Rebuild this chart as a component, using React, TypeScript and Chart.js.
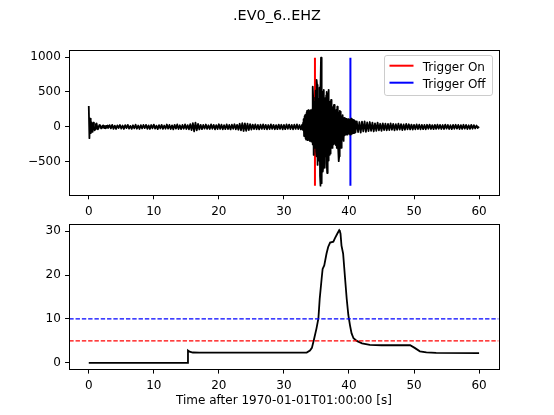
import React, { useEffect, useRef } from "react";
import { Chart, registerables } from "chart.js";

Chart.register(...registerables);

// ---------- text ----------
const TITLE = ".EV0_6..EHZ";
const X_LABEL = "Time after 1970-01-01T01:00:00 [s]";
const LEGEND_ON = "Trigger On";
const LEGEND_OFF = "Trigger Off";

// ---------- ticks / ranges ----------
const X_TICKS = [0, 10, 20, 30, 40, 50, 60];
const X_RANGE = [-3, 63];
const TOP_Y_TICKS = [-500, 0, 500, 1000];
const TOP_Y_RANGE = [-975, 1103];
const BOTTOM_Y_TICKS = [0, 10, 20, 30];
const BOTTOM_Y_RANGE = [-1.5, 31.6];

// ---------- waveform (counts), sampled in segments ----------
const segAStart = 0.0;
const segAStep = 0.1;
const segAValues = [
  300, -160, 120, -90, 70, -70, 20, 60, 10, -50,
  -30, 40, 50, 0, -35, -20, 25, 30, 5, -20,
  -15, 15, 20, -10, -15, 10, -20, 15, -10, 20,
  -15,
];

const segBStart = 3.2;
const segBStep = 0.2;
const segBValues = [
  25, -20, 30, -28, 18, -30, 22, -15, 28, -25,
  20, -30, 26, -18, 30, -24, 15, -28, 24, -20,
  32, -26, 20, -30, 25, -22, 28, -18, 30, -27,
  22, -30, 27, -20, 33, -25, 18, -32, 26, -22,
  30, -28, 20, -26, 34, -24, 28, -30, 22, -35,
  30, -25, 36, -30, 24, -32, 28, -26, 35, -30,
  26, -34, 40, -45, 55, -65, 60, -50, 42, -36,
  30, -32, 28, -25, 34, -28, 24, -30, 36, -27,
  30, -35, 26, -30, 38, -28, 32, -34, 25, -31,
  35, -30, 28, -36, 32, -27, 38, -34, 30, -40,
  45, -50, 55, -58, 52, -55, 48, -45, 40, -38,
  34, -30, 36, -33, 28, -35, 32, -28, 36, -30,
  30, -34, 27, -31, 35, -28, 30, -33, 26, -32,
  34, -29, 31, -35, 28, -32, 36, -27, 33, -30,
  29, -34, 32, -28, 35, -31, 27, -36, 33,
];

const segCStart = 32.9;
const segCStep = 0.05;
const segCValues = [
  -40, 60, -50, 110, -130, 150, -120, 170, -160, 140,
  -180, 200, -150, 230, -190, 180, -170, 240, -160, 210,
  -185, 220, -200, 190, -180, 240, -210, 200, -190, 250,
  -250, 576, 420, -300, -400, 300, 350, -250, -300, 450,
  520, -350, -420, 671, 600, -450, -543, 400, 380, -350,
  -480, 560, 500, -700, -840, 600, 990, 880, -600, -805,
  450, 500, -638, -560, 420, 528, -400, -585, 350, 410,
  -420, -380, 450, 500, -520, -660, 400, 460, -480, 530,
  420, -400, -350, 300, 360, -380, -300, 386, 300, -280,
  -300, 250, 280, -250, -220, 260, 314, -200, -240, 250,
  200, -260, -200, 240, 220, -300, 290, 250, -280, -330,
  200, -490, -420, 230, 220, -300, 220, 180, -250, -300,
  140, -150, 130, 170, -130, 120, -200, 110, -120, 130,
  -110, 120, -100, 115, -105, 100, -110, 95, -100, 110,
  -95, 100, -90, 105, -100, 95, -110, 90, -95, 120,
  -100, 110, -90, 100, -85, 95, -90, 100, -80, 90,
  -85, 80, -75,
];

const segDStart = 41.2;
const segDStep = 0.2;
const segDValues = [
  80, -75, 70, -80, 75, -65, 80, -70, 65, -60,
  70, -55, 60, -65, 50, -55, 60, -50, 45, -55,
  50, -45, 48, -50, 42, -46, 50, -40, 44, -48,
  40, -42, 46, -38, 40, -44, 36, -40, 42, -35,
  38, -36, 34, -38, 30, -34, 36, -30, 32, -35,
  30, -32, 28, -34, 31, -27, 33, -30, 26, -32,
  30, -28, 32, -26, 29, -31, 27, -30, 33, -25,
  28, -30, 25, -32, 29, -27, 31, -24, 28, -30,
  26, -29, 31, -25, 28, -30, 24, -28, 30, -26,
  25, -22, 20, -15, 5,
];

// ---------- triggers ----------
const TRIGGER_ON_TIME = 34.77;
const TRIGGER_OFF_TIME = 40.22;

// ---------- characteristic function ----------
const cftTimes = [
  0, 15.2, 15.25, 15.5, 16, 17, 20, 25, 30, 32, 33.5, 34, 34.3, 34.6, 35.0, 35.3,
  35.5, 35.8, 35.95, 36.2, 36.55, 36.8, 37.1, 37.6, 37.85, 38.2, 38.5, 38.6, 38.7,
  38.85, 39.1, 39.4, 39.65, 39.9, 40.15, 40.4, 40.7, 41.2, 42.0, 43.2, 45, 49.4,
  50.1, 50.9, 51.9, 53.4, 60,
];
const cftValues = [
  0, 0, 2.8, 2.55, 2.35, 2.3, 2.3, 2.32, 2.3, 2.3, 2.33, 2.8, 3.4, 5.2, 7.8, 10.1,
  14.6, 19.2, 21.4, 22.2, 24.9, 26.4, 27.4, 27.6, 28.4, 29.4, 30.2, 30.0, 29.4,
  26.7, 24.9, 19.2, 14.6, 10.9, 8.6, 6.7, 5.6, 5.0, 4.45, 4.1, 4.0, 4.0,
  3.4, 2.63, 2.4, 2.27, 2.2,
];
const THRESHOLD_RED = 5;
const THRESHOLD_BLUE = 10;

// ---------- layout (figure pixels) ----------
const W = 554;
const H = 415;
const AX_LEFT = 69.25;
const AX_RIGHT = 498.6;
const TOP_AX = [49.8, 195.1];
const BOT_AX = [224.1, 369.4];
const FONT = "'DejaVu Sans', 'Liberation Sans', sans-serif";

function buildWave() {
  const segs = [
    { start: segAStart, step: segAStep, values: segAValues },
    { start: segBStart, step: segBStep, values: segBValues },
    { start: segCStart, step: segCStep, values: segCValues },
    { start: segDStart, step: segDStep, values: segDValues },
  ];
  const pts: { x: number; y: number }[] = [];
  segs.forEach((s) =>
    s.values.forEach((v, i) => pts.push({ x: +(s.start + i * s.step).toFixed(3), y: v }))
  );
  return pts;
}

const minus = (v: any) => String(v).replace("-", "\u2212");

function xScale(withTitle: boolean, height: number) {
  return {
    type: "linear",
    min: X_RANGE[0],
    max: X_RANGE[1],
    afterBuildTicks: (s: any) => {
      s.ticks = X_TICKS.map((v) => ({ value: v }));
    },
    afterFit: (s: any) => {
      s.height = height;
    },
    ticks: {
      font: { family: FONT, size: 12 },
      color: "#000",
      padding: 5.5,
      maxRotation: 0,
      autoSkip: false,
      callback: minus,
    },
    grid: {
      display: true,
      drawOnChartArea: false,
      drawTicks: true,
      tickLength: 4.2,
      color: "#000",
      lineWidth: 1,
    },
    border: { display: false },
    title: withTitle
      ? {
          display: true,
          text: X_LABEL,
          font: { family: FONT, size: 12 },
          color: "#000",
          padding: { top: 0, bottom: 7.2 },
        }
      : { display: false },
  };
}

function yScale(range: number[], ticks: number[]) {
  return {
    type: "linear",
    min: range[0],
    max: range[1],
    afterBuildTicks: (s: any) => {
      s.ticks = ticks.map((v) => ({ value: v }));
    },
    afterFit: (s: any) => {
      s.width = AX_LEFT;
    },
    ticks: {
      font: { family: FONT, size: 12 },
      color: "#000",
      padding: 4.2,
      autoSkip: false,
      callback: minus,
    },
    grid: {
      display: true,
      drawOnChartArea: false,
      drawTicks: true,
      tickLength: 4.2,
      color: "#000",
      lineWidth: 1,
    },
    border: { display: false },
  };
}

const framePlugin = {
  id: "frame",
  afterDatasetsDraw(chart: any) {
    const { ctx, chartArea: a } = chart;
    const l = Math.round(a.left) + 0.5;
    const t = Math.round(a.top) + 0.5;
    const r = Math.round(a.right) + 0.5;
    const b = Math.round(a.bottom) + 0.5;
    ctx.save();
    ctx.strokeStyle = "#000";
    ctx.lineWidth = 1;
    ctx.strokeRect(l, t, r - l, b - t);
    ctx.restore();
  },
};

const titleLegendPlugin = {
  id: "titleLegend",
  afterDraw(chart: any) {
    const { ctx } = chart;
    ctx.save();
    // suptitle
    ctx.fillStyle = "#000";
    ctx.font = `14.4px ${FONT}`;
    ctx.textAlign = "center";
    ctx.textBaseline = "alphabetic";
    ctx.fillText(TITLE, W / 2, 19.5);

    // legend box
    const bx = 384.5, by = 55.5, bw = 108, bh = 40;
    ctx.beginPath();
    if (ctx.roundRect) ctx.roundRect(bx, by, bw, bh, 2.4);
    else ctx.rect(bx, by, bw, bh);
    ctx.fillStyle = "rgba(255,255,255,0.8)";
    ctx.fill();
    ctx.strokeStyle = "#cccccc";
    ctx.lineWidth = 1;
    ctx.stroke();

    const items = [
      { label: LEGEND_ON, color: "#ff0000", y: 65.7 },
      { label: LEGEND_OFF, color: "#0000ff", y: 82.7 },
    ];
    ctx.font = `12px ${FONT}`;
    ctx.textAlign = "left";
    items.forEach((it) => {
      ctx.beginPath();
      ctx.moveTo(389.5, it.y);
      ctx.lineTo(413.5, it.y);
      ctx.strokeStyle = it.color;
      ctx.lineWidth = 2;
      ctx.stroke();
      ctx.fillStyle = "#000";
      ctx.fillText(it.label, 422.7, it.y + 5);
    });
    ctx.restore();
  },
};

export default function App() {
  const topRef = useRef<HTMLCanvasElement>(null);
  const botRef = useRef<HTMLCanvasElement>(null);

  useEffect(() => {
    const wave = buildWave();
    const wMin = Math.min(...wave.map((p) => p.y));
    const wMax = Math.max(...wave.map((p) => p.y));
    const line = (data: any[], color: string, width: number, extra: any = {}) => ({
      data,
      borderColor: color,
      borderWidth: width,
      pointRadius: 0,
      tension: 0,
      fill: false,
      ...extra,
    });

    const top = new Chart(topRef.current as HTMLCanvasElement, {
      type: "line",
      data: {
        datasets: [
          line(wave, "#000", 1.8, { order: 0, borderJoinStyle: "round" }),
          line(
            [
              { x: TRIGGER_ON_TIME, y: wMin },
              { x: TRIGGER_ON_TIME, y: wMax },
            ],
            "#ff0000",
            2,
            { order: 1 }
          ),
          line(
            [
              { x: TRIGGER_OFF_TIME, y: wMin },
              { x: TRIGGER_OFF_TIME, y: wMax },
            ],
            "#0000ff",
            2,
            { order: 2 }
          ),
        ] as any,
      },
      options: {
        animation: false,
        responsive: false,
        devicePixelRatio: 1,
        events: [],
        parsing: false,
        layout: {
          padding: { left: 0, top: TOP_AX[0], right: W - AX_RIGHT, bottom: 0 },
        },
        plugins: { legend: { display: false }, tooltip: { enabled: false } },
        scales: {
          x: xScale(false, H - TOP_AX[1]) as any,
          y: yScale(TOP_Y_RANGE, TOP_Y_TICKS) as any,
        },
      },
      plugins: [framePlugin, titleLegendPlugin],
    });

    const cft = cftTimes.map((t, i) => ({ x: t, y: cftValues[i] }));
    const bottom = new Chart(botRef.current as HTMLCanvasElement, {
      type: "line",
      data: {
        datasets: [
          line(
            [
              { x: X_RANGE[0], y: THRESHOLD_BLUE },
              { x: X_RANGE[1], y: THRESHOLD_BLUE },
            ],
            "#0000ff",
            1.2,
            { order: 0, borderDash: [4.4, 1.9] }
          ),
          line(
            [
              { x: X_RANGE[0], y: THRESHOLD_RED },
              { x: X_RANGE[1], y: THRESHOLD_RED },
            ],
            "#ff0000",
            1.2,
            { order: 1, borderDash: [4.4, 1.9] }
          ),
          line(cft, "#000", 1.8, { order: 2 }),
        ] as any,
      },
      options: {
        animation: false,
        responsive: false,
        devicePixelRatio: 1,
        events: [],
        parsing: false,
        layout: {
          padding: { left: 0, top: BOT_AX[0], right: W - AX_RIGHT, bottom: 0 },
        },
        plugins: { legend: { display: false }, tooltip: { enabled: false } },
        scales: {
          x: xScale(true, H - BOT_AX[1]) as any,
          y: yScale(BOTTOM_Y_RANGE, BOTTOM_Y_TICKS) as any,
        },
      },
      plugins: [framePlugin],
    });

    return () => {
      top.destroy();
      bottom.destroy();
    };
  }, []);

  const canvasStyle: React.CSSProperties = {
    position: "absolute",
    left: 0,
    top: 0,
    width: W,
    height: H,
  };

  return (
    <div
      style={{
        position: "fixed",
        left: 0,
        top: 0,
        width: W,
        height: H,
        background: "#fff",
      }}
    >
      <canvas ref={botRef} width={W} height={H} style={canvasStyle} />
      <canvas ref={topRef} width={W} height={H} style={canvasStyle} />
    </div>
  );
}
